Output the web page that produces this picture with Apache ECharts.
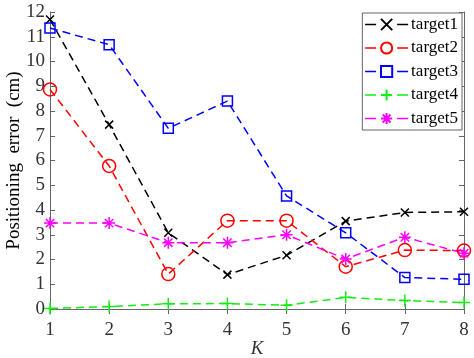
<!DOCTYPE html>
<html><head><meta charset="utf-8">
<script src="https://cdn.jsdelivr.net/npm/echarts@6/dist/echarts.min.js"></script>
<style>html,body{margin:0;padding:0;background:#fff}#c{width:474px;height:358px}</style>
</head><body><div id="c"></div>
<script>
const categories = [1, 2, 3, 4, 5, 6, 7, 8];
const target1 = [11.7, 7.45, 3.08, 1.39, 2.17, 3.55, 3.9, 3.93];
const target2 = [8.87, 5.78, 1.41, 3.57, 3.57, 1.71, 2.38, 2.36];
const target3 = [11.35, 10.68, 7.3, 8.4, 4.57, 3.08, 1.27, 1.2];
const target4 = [0.02, 0.1, 0.21, 0.22, 0.15, 0.47, 0.34, 0.26];
const target5 = [3.47, 3.47, 2.68, 2.68, 3.0, 2.02, 2.9, 2.25];
const yTicks = [0,1,2,3,4,5,6,7,8,9,10,11,12];

const font = 'Liberation Serif, Times New Roman, serif';
const symX = 'path://M0,0L10,10M10,0L0,10';
const symPlus = 'path://M5,0L5,10M0,5L10,5';
const symStar = 'path://M5,0L5,10M0,5L10,5M1.5,1.5L8.5,8.5M8.5,1.5L1.5,8.5';

function mk(name, data, color, symbol, size) {
  return {
    name, type: 'line', data: data.map((v,i)=>[categories[i], v]),
    symbol, symbolSize: size, showAllSymbol: true,
    lineStyle: {color, width: 1.5, type: [8,5]},
    itemStyle: {color: 'rgba(0,0,0,0)', borderColor: color, borderWidth: 1.5},
    emphasis: {disabled: true}, z: 3
  };
}

const chart = echarts.init(document.getElementById('c'), null, {renderer: 'canvas'});
const axisLine = {show: true, lineStyle: {color: '#666', width: 1}};
const tick = {inside: true, length: 5, lineStyle: {color: '#666'}};
chart.setOption({
  animation: false,
  grid: {left: 50, right: 10, top: 12, bottom: 49, show: false, containLabel: false, outerBoundsMode: 'none'},
  legend: {
    right: 12, top: 13, orient: 'vertical', itemGap: 6.5, itemWidth: 43, itemHeight: 14,
    backgroundColor: '#fff', borderColor: '#666', borderWidth: 1, borderRadius: 0,
    padding: [3, 4, 3, 2],
    lineStyle: {type: [11, 21], width: 1.5},
    textStyle: {fontFamily: font, fontSize: 17, color: '#000', padding: [0,0,0,-2]},
    data: ['target1','target2','target3','target4','target5']
  },
  xAxis: [{
    type: 'value', min: 1, max: 8, interval: 1,
    name: 'K', nameLocation: 'middle', nameGap: 30, nameMoveOverlap: false,
    nameTextStyle: {fontFamily: font, fontSize: 19, fontStyle: 'italic', color: '#333'},
    axisLine, axisTick: tick,
    axisLabel: {fontFamily: font, fontSize: 19, color: '#333', margin: 12},
    splitLine: {show: false}
  }, {
    type: 'value', min: 1, max: 8, interval: 1, position: 'top',
    axisLine, axisTick: tick,
    axisLabel: {show: false}, splitLine: {show: false}
  }],
  yAxis: [{
    type: 'value', min: 0, max: 12, interval: 1,
    name: 'Positioning  error  (cm)', nameLocation: 'middle', nameGap: 26, nameMoveOverlap: false,
    nameTextStyle: {fontFamily: font, fontSize: 19, color: '#000'},
    axisLine, axisTick: tick,
    axisLabel: {fontFamily: font, fontSize: 19, color: '#333', margin: 5,
      formatter: v => yTicks.includes(v) ? String(v) : ''},
    splitLine: {show: false}
  }, {
    type: 'value', min: 0, max: 12, interval: 1, position: 'right',
    axisLine, axisTick: tick,
    axisLabel: {show: false}, splitLine: {show: false}
  }],
  series: [
    mk('target1', target1, '#000000', symX, 8),
    mk('target2', target2, '#ff0000', 'circle', 13),
    mk('target3', target3, '#0000ff', 'rect', 10),
    mk('target4', target4, '#11ee11', symPlus, 12),
    mk('target5', target5, '#ff00ff', symStar, 12)
  ]
});
</script></body></html>
